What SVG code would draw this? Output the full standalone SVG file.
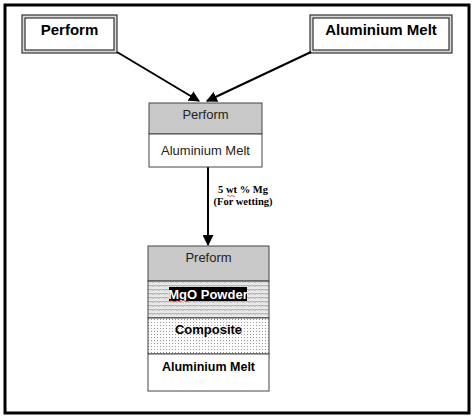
<svg xmlns="http://www.w3.org/2000/svg" width="474" height="419" viewBox="0 0 474 419">
<style>
.b{font-family:"Liberation Sans",Arial,sans-serif;font-weight:bold;fill:#000;text-anchor:middle}
.r{font-family:"Liberation Sans",Arial,sans-serif;fill:#222;text-anchor:middle}
.t{font-family:"Liberation Serif","Times New Roman",serif;font-weight:bold;font-size:10.5px;fill:#000;text-anchor:middle}
.cell{stroke:#444;stroke-width:1}
.con{stroke:#000;stroke-width:2;fill:none}
</style>
<defs>
<marker id="ah" viewBox="0 0 10 10" refX="9" refY="5" markerWidth="5.5" markerHeight="5.5" orient="auto" markerUnits="strokeWidth">
<path d="M0,0L10,5L0,10z" fill="#000"/>
</marker>
<pattern id="wave" width="6" height="4" patternUnits="userSpaceOnUse">
<rect width="6" height="4" fill="#e8e8e8"/>
<path d="M0,2.5L1.5,1L3,2.5L4.5,1L6,2.5" stroke="#808080" stroke-width="0.8" fill="none"/>
</pattern>
<pattern id="dots" width="3" height="3" patternUnits="userSpaceOnUse">
<rect width="3" height="3" fill="#fbfbfb"/>
<rect x="1" y="1" width="1" height="1" fill="#9a9a9a"/>
</pattern>
</defs>
<rect x="5" y="5" width="464" height="408" fill="#fff" stroke="#000" stroke-width="3"/>
<g id="perform-top">
<rect x="22" y="15" width="95" height="38" fill="#d8d8d8" stroke="#333" stroke-width="1.2"/>
<rect x="25" y="18" width="89" height="32" fill="#fff" stroke="#333" stroke-width="1.2"/>
<text class="b" x="69.5" y="35" font-size="15">Perform</text>
</g>
<g id="melt-top">
<rect x="310" y="15" width="142" height="38" fill="#d8d8d8" stroke="#333" stroke-width="1.2"/>
<rect x="313" y="18" width="136" height="32" fill="#fff" stroke="#333" stroke-width="1.2"/>
<text class="b" x="381" y="35" font-size="15">Aluminium Melt</text>
</g>
<g id="connectors">
<line class="con" x1="117" y1="52" x2="199" y2="101" marker-end="url(#ah)"/>
<line class="con" x1="311" y1="52" x2="207" y2="101" marker-end="url(#ah)"/>
<line class="con" x1="208" y1="167" x2="208" y2="245" marker-end="url(#ah)"/>
<text class="t" x="243" y="193">5 wt % Mg</text>
<text class="t" x="243" y="205">(For wetting)</text>
<path d="M227,196q1,-1 2,0t2,0t2,0t2,0" stroke="#d22" stroke-width="0.7" fill="none"/>
</g>
<g id="stack-middle">
<rect class="cell" x="149" y="103" width="113" height="31" fill="#c8c8c8"/>
<rect class="cell" x="149" y="134" width="113" height="33" fill="#fff"/>
<text class="r" x="205.5" y="118.5" font-size="13">Perform</text>
<text class="r" x="205.5" y="155" font-size="13">Aluminium Melt</text>
</g>
<g id="stack-bottom">
<rect class="cell" x="148" y="246" width="121" height="35" fill="#c8c8c8"/>
<rect class="cell" x="148" y="281" width="121" height="37" fill="url(#wave)"/>
<rect class="cell" x="148" y="318" width="121" height="36" fill="url(#dots)"/>
<rect class="cell" x="148" y="354" width="121" height="37" fill="#fff"/>
<text class="r" x="208.5" y="261.5" font-size="13">Preform</text>
<rect x="169" y="287" width="78" height="14" fill="#000"/>
<text class="b" x="208" y="298.5" font-size="13" style="fill:#fff">MgO Powder</text>
<path d="M170,301q1.5,-1.5 3,0t3,0t3,0t3,0t3,0t3,0" stroke="#d22" stroke-width="0.8" fill="none"/>
<text class="b" x="208.5" y="334" font-size="13">Composite</text>
<text class="b" x="208.5" y="371" font-size="12.5">Aluminium Melt</text>
</g>
</svg>
